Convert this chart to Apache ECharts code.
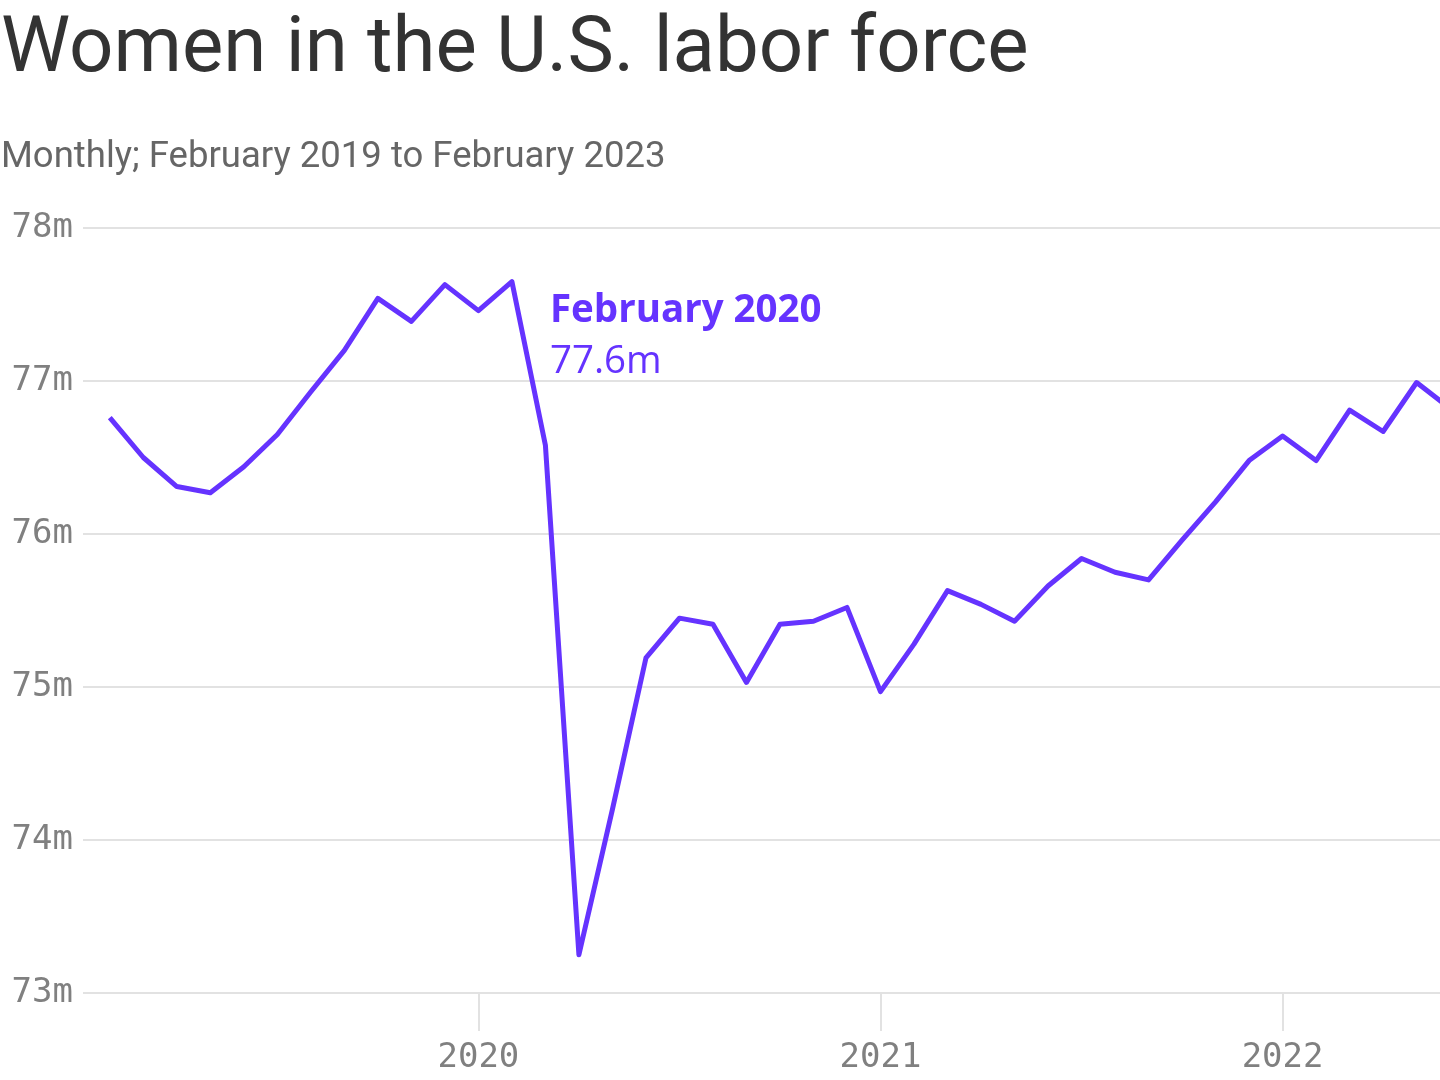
<!DOCTYPE html>
<html>
<head>
<meta charset="utf-8">
<script src="https://cdn.jsdelivr.net/npm/echarts@6/dist/echarts.min.js"></script>
<style>
html,body{margin:0;padding:0;background:#fff;overflow:hidden;width:1440px;height:1080px;}
#chart{width:1745px;height:1080px;}
</style>
</head>
<body>
<div id="chart"></div>
<script>
// Months from February 2019 to February 2023
const months = [
  'Feb 2019','Mar 2019','Apr 2019','May 2019','Jun 2019','Jul 2019','Aug 2019','Sep 2019','Oct 2019','Nov 2019','Dec 2019',
  'Jan 2020','Feb 2020','Mar 2020','Apr 2020','May 2020','Jun 2020','Jul 2020','Aug 2020','Sep 2020','Oct 2020','Nov 2020','Dec 2020',
  'Jan 2021','Feb 2021','Mar 2021','Apr 2021','May 2021','Jun 2021','Jul 2021','Aug 2021','Sep 2021','Oct 2021','Nov 2021','Dec 2021',
  'Jan 2022','Feb 2022','Mar 2022','Apr 2022','May 2022','Jun 2022','Jul 2022','Aug 2022','Sep 2022','Oct 2022','Nov 2022','Dec 2022',
  'Jan 2023','Feb 2023'
];
// Women in the labor force, millions
const womenLaborForce = [
  76.76, 76.50, 76.31, 76.27, 76.44, 76.65, 76.93, 77.20, 77.54, 77.39, 77.63,
  77.46, 77.65, 76.58, 73.25, 74.20, 75.19, 75.45, 75.41, 75.03, 75.41, 75.43, 75.52,
  74.97, 75.28, 75.63, 75.54, 75.43, 75.66, 75.84, 75.75, 75.70, 75.96, 76.21, 76.48,
  76.64, 76.48, 76.81, 76.67, 76.99, 76.82, 76.75, 77.10, 77.05, 77.02, 76.98, 77.15,
  77.45, 77.60
];
const yTicks = [73, 74, 75, 76, 77, 78];
const xTickYears = [2020, 2021, 2022];
const annotationMonth = 'Feb 2020';
const annotationTitle = 'February 2020';
const annotationValue = '77.6m';

const titleText = 'Women in the U.S. labor force';
const subtitleText = 'Monthly; February 2019 to February 2023';

// month number since Jan 2019 (Jan 2019 = 0)
const monthNum = (label) => {
  const [m, y] = label.split(' ');
  const names = ['Jan','Feb','Mar','Apr','May','Jun','Jul','Aug','Sep','Oct','Nov','Dec'];
  return (parseInt(y) - 2019) * 12 + names.indexOf(m);
};
const seriesData = months.map((m, i) => [monthNum(m), womenLaborForce[i]]);
const annIdx = months.indexOf(annotationMonth);

const purple = '#6533FF';
const sans = 'Roboto, "Open Sans", sans-serif';
const annFont = '"Open Sans", Roboto, sans-serif';
const mono = '"DejaVu Sans Mono", "Liberation Mono", monospace';

const chart = echarts.init(document.getElementById('chart'), null, {renderer: 'canvas'});
chart.setOption({
  backgroundColor: '#ffffff',
  animation: false,
  title: [
    {text: titleText, left: -4, top: 7,
     textStyle: {fontFamily: sans, fontSize: 78, fontWeight: 'normal', color: '#333333'}},
    {text: subtitleText, left: -4, top: 134,
     textStyle: {fontFamily: sans, fontSize: 36.5, fontWeight: 'normal', color: '#666666'}}
  ],
  grid: {left: 83, right: 0, top: 228, bottom: 87, containLabel: false},
  xAxis: {
    type: 'value',
    min: 0.2,
    max: 49.8,
    axisLine: {show: false},
    splitLine: {show: false},
    axisTick: {show: true, customValues: xTickYears.map(y => (y - 2019) * 12), length: 38,
               lineStyle: {color: '#e2e2e2', width: 2}},
    axisLabel: {show: true, customValues: xTickYears.map(y => (y - 2019) * 12),
                formatter: v => String(2019 + Math.round(v / 12)),
                fontFamily: mono, fontSize: 34, color: '#808080', margin: 48}
  },
  yAxis: {
    type: 'value',
    min: yTicks[0],
    max: yTicks[yTicks.length - 1],
    interval: 1,
    axisLine: {show: false},
    axisTick: {show: false},
    splitLine: {show: true, lineStyle: {color: '#e2e2e2', width: 2}},
    axisLabel: {formatter: '{value}m', fontFamily: mono, fontSize: 34, color: '#808080', margin: 10,
                padding: [8, 0, 0, 0]}
  },
  series: [{
    type: 'line',
    data: seriesData,
    symbol: 'none',
    lineStyle: {color: purple, width: 5, join: 'round'},
    itemStyle: {color: purple},
    z: 3,
    markPoint: {
      symbol: 'circle',
      symbolSize: 0,
      silent: true,
      data: [{
        coord: seriesData[annIdx],
        label: {
          show: true,
          position: [38, 4],
          align: 'left',
          verticalAlign: 'top',
          formatter: '{a|' + annotationTitle + '}\n{b|' + annotationValue + '}',
          rich: {
            a: {fontFamily: annFont, fontSize: 38.5, fontWeight: 'bold', color: purple, lineHeight: 51},
            b: {fontFamily: annFont, fontSize: 38.5, fontWeight: 'normal', color: purple, lineHeight: 51,
                textBorderColor: '#ffffff', textBorderWidth: 4}
          }
        }
      }]
    }
  }]
});
</script>
</body>
</html>
